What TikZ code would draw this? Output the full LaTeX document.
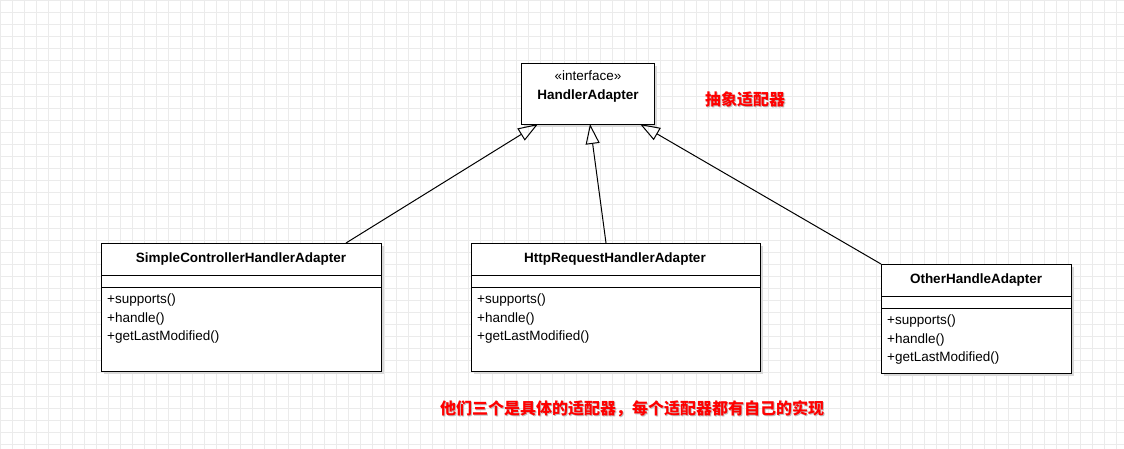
\documentclass[tikz,border=0pt]{standalone}
\usepackage{fontspec}
\setmainfont{Liberation Sans}
\newfontfamily\cjk{Noto Sans CJK SC}
\usetikzlibrary{arrows.meta}
\begin{document}
\begin{tikzpicture}[x=1pt,y=-1pt,
  box/.style={draw,line width=1pt,fill=white},
  mtxt/.style={anchor=west,inner sep=0pt,font=\fontsize{13.5}{15}\selectfont},
  ttl/.style={inner sep=0pt,font=\bfseries\fontsize{13.5}{15}\selectfont},
  gen/.style={-{Triangle[open,length=20pt,width=14pt]},line width=1pt},
  note/.style={text=red,font=\cjk\bfseries\fontsize{16}{18}\selectfont}]
\useasboundingbox (0,0) rectangle (1124,449);
\fill[white] (0,0) rectangle (1124,449);
\foreach \i in {0,12,...,1124} \draw[black!8,line width=0.5pt] (\i,0) -- (\i,449);
\foreach \j in {0,12,...,449} \draw[black!8,line width=0.5pt] (0,\j) -- (1124,\j);
% interface
\fill[black!15] (524,66) rectangle (657,127);
\node[box,minimum width=133pt,minimum height=61pt,anchor=north west] (ia) at (521,63) {};
\node[inner sep=0pt,font=\fontsize{13.5}{15}\selectfont] (il) at (588,76) {«interface»};
\node[ttl] (it) at (588,96) {HandlerAdapter};
% simple
\fill[black!15] (104,246) rectangle (384,374);
\node[box,minimum width=280pt,minimum height=128pt,anchor=north west] (sa) at (101,243) {};
\draw[line width=1pt] (101,275) -- (381,275) (101,287) -- (381,287);
\node[ttl] (st) at (241,259) {SimpleControllerHandlerAdapter};
\node[mtxt] (s1) at (107,300) {+supports()};
\node[mtxt] (s2) at (107,319) {+handle()};
\node[mtxt] (s3) at (107,337) {+getLastModified()};
% http
\fill[black!15] (474,246) rectangle (763,374);
\node[box,minimum width=289pt,minimum height=128pt,anchor=north west] (ha) at (471,243) {};
\draw[line width=1pt] (471,275) -- (760,275) (471,287) -- (760,287);
\node[ttl] (ht) at (615,259) {HttpRequestHandlerAdapter};
\node[mtxt] (h1) at (477,300) {+supports()};
\node[mtxt] (h2) at (477,319) {+handle()};
\node[mtxt] (h3) at (477,337) {+getLastModified()};
% other
\fill[black!15] (884,267) rectangle (1074,376);
\node[box,minimum width=190pt,minimum height=109pt,anchor=north west] (oa) at (881,264) {};
\draw[line width=1pt] (881,296) -- (1071,296) (881,308) -- (1071,308);
\node[ttl] (ot) at (976,280) {OtherHandleAdapter};
\node[mtxt] (o1) at (887,321) {+supports()};
\node[mtxt] (o2) at (887,340) {+handle()};
\node[mtxt] (o3) at (887,358) {+getLastModified()};
% arrows
\coordinate (p1) at (346,243); \coordinate (q1) at (538,124);
\coordinate (p2) at (606,243); \coordinate (q2) at (590,124);
\coordinate (p3) at (881,264); \coordinate (q3) at (640,124);
\draw[gen] (p1) -- (q1);
\draw[gen] (p2) -- (q2);
\draw[gen] (p3) -- (q3);
% notes
\node[note,text=black!25] at (746,100) {抽象适配器};
\node[note] (n1) at (745,99) {抽象适配器};
\node[note,text=black!25] at (633,410) {他们三个是具体的适配器，每个适配器都有自己的实现};
\node[note] (n2) at (632,409) {他们三个是具体的适配器，每个适配器都有自己的实现};
\end{tikzpicture}
\end{document}
